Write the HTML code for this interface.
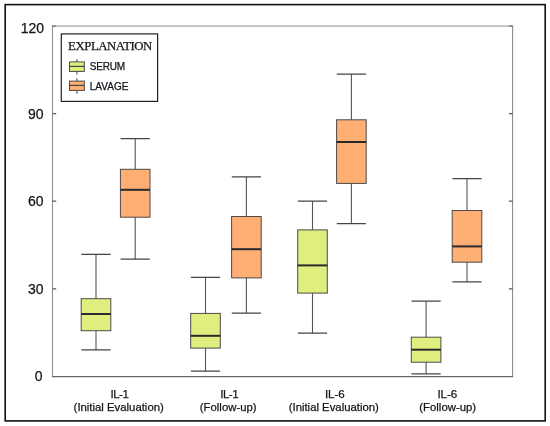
<!DOCTYPE html>
<html><head><meta charset="utf-8"><title>Box plot</title>
<style>
html,body{margin:0;padding:0;background:#fff;}
svg{display:block;}
text{font-family:"Liberation Sans",Arial,sans-serif;fill:#14141c;stroke:#14141c;stroke-width:0.25px;}
.ser{font-family:"Liberation Serif","Times New Roman",serif;}
</style></head><body>
<svg width="550" height="426" viewBox="0 0 550 426">
<rect x="0" y="0" width="550" height="426" fill="#fff"/>
<rect x="5.2" y="4.6" width="540" height="416.3" fill="none" stroke="#111" stroke-width="1.6"/>

<path d="M52.0 26.05H513.1" fill="none" stroke="#8e8e8e" stroke-width="1"/>
<path d="M512.6 26.05V376.55" fill="none" stroke="#8c8c8c" stroke-width="1.1"/>
<path d="M52.5 25.55V376.55" fill="none" stroke="#909090" stroke-width="1.1"/>
<path d="M52.0 376.55H513.1" fill="none" stroke="#686868" stroke-width="1.3"/>
<text x="42.5" y="381.2" font-size="14" text-anchor="end">0</text>
<path d="M52.5 288.8h3.7M512.6 288.8h-3.7" stroke="#5a5a5a" stroke-width="1.2"/>
<text x="43.6" y="293.8" font-size="14" text-anchor="end">30</text>
<path d="M52.5 201.2h3.7M512.6 201.2h-3.7" stroke="#5a5a5a" stroke-width="1.2"/>
<text x="43.6" y="205.6" font-size="14" text-anchor="end">60</text>
<path d="M52.5 113.6h3.7M512.6 113.6h-3.7" stroke="#5a5a5a" stroke-width="1.2"/>
<text x="43.6" y="119.2" font-size="14" text-anchor="end">90</text>
<path d="M52.5 26.0h3.7M512.6 26.0h-3.7" stroke="#5a5a5a" stroke-width="1.2"/>
<text x="44.0" y="32.7" font-size="14" text-anchor="end">120</text>
<path d="M96.0 254.4V349.9" stroke="#555" stroke-width="1.1" fill="none"/>
<path d="M81.4 254.4H110.6M81.4 349.9H110.6" stroke="#444" stroke-width="1.25" fill="none"/>
<rect x="81.2" y="298.7" width="29.6" height="32.0" fill="#e0ee80" stroke="#4a4a4a" stroke-width="1"/>
<path d="M81.2 314.0H110.8" stroke="#2a2a2a" stroke-width="2"/>
<path d="M135.2 138.5V259.0" stroke="#555" stroke-width="1.1" fill="none"/>
<path d="M120.6 138.5H149.8M120.6 259.0H149.8" stroke="#444" stroke-width="1.25" fill="none"/>
<rect x="120.39999999999999" y="169.3" width="29.6" height="47.9" fill="#ffae74" stroke="#4a4a4a" stroke-width="1"/>
<path d="M120.39999999999999 189.8H150.0" stroke="#2a2a2a" stroke-width="2"/>
<path d="M205.5 277.3V371.2" stroke="#555" stroke-width="1.1" fill="none"/>
<path d="M190.89999999999998 277.3H220.10000000000002M190.89999999999998 371.2H220.10000000000002" stroke="#444" stroke-width="1.25" fill="none"/>
<rect x="190.7" y="313.4" width="29.6" height="34.7" fill="#e0ee80" stroke="#4a4a4a" stroke-width="1"/>
<path d="M190.7 335.8H220.3" stroke="#2a2a2a" stroke-width="2"/>
<path d="M246.4 176.9V313.2" stroke="#555" stroke-width="1.1" fill="none"/>
<path d="M231.79999999999998 176.9H261.0M231.79999999999998 313.2H261.0" stroke="#444" stroke-width="1.25" fill="none"/>
<rect x="231.6" y="216.5" width="29.6" height="61.4" fill="#ffae74" stroke="#4a4a4a" stroke-width="1"/>
<path d="M231.6 249.2H261.2" stroke="#2a2a2a" stroke-width="2"/>
<path d="M312.5 201.1V333.2" stroke="#555" stroke-width="1.1" fill="none"/>
<path d="M297.9 201.1H327.1M297.9 333.2H327.1" stroke="#444" stroke-width="1.25" fill="none"/>
<rect x="297.7" y="229.9" width="29.6" height="63.2" fill="#e0ee80" stroke="#4a4a4a" stroke-width="1"/>
<path d="M297.7 265.4H327.3" stroke="#2a2a2a" stroke-width="2"/>
<path d="M351.4 74.0V223.6" stroke="#555" stroke-width="1.1" fill="none"/>
<path d="M336.79999999999995 74.0H366.0M336.79999999999995 223.6H366.0" stroke="#444" stroke-width="1.25" fill="none"/>
<rect x="336.59999999999997" y="119.8" width="29.6" height="63.6" fill="#ffae74" stroke="#4a4a4a" stroke-width="1"/>
<path d="M336.59999999999997 142.0H366.2" stroke="#2a2a2a" stroke-width="2"/>
<path d="M426.1 301.2V373.8" stroke="#555" stroke-width="1.1" fill="none"/>
<path d="M411.5 301.2H440.70000000000005M411.5 373.8H440.70000000000005" stroke="#444" stroke-width="1.25" fill="none"/>
<rect x="411.3" y="337.2" width="29.6" height="25.0" fill="#e0ee80" stroke="#4a4a4a" stroke-width="1"/>
<path d="M411.3 349.7H440.90000000000003" stroke="#2a2a2a" stroke-width="2"/>
<path d="M467.0 178.6V281.9" stroke="#555" stroke-width="1.1" fill="none"/>
<path d="M452.4 178.6H481.6M452.4 281.9H481.6" stroke="#444" stroke-width="1.25" fill="none"/>
<rect x="452.2" y="210.5" width="29.6" height="51.7" fill="#ffae74" stroke="#4a4a4a" stroke-width="1"/>
<path d="M452.2 246.4H481.8" stroke="#2a2a2a" stroke-width="2"/>
<rect x="61.3" y="33.9" width="96.3" height="67.5" fill="#fff" stroke="#222" stroke-width="1.2"/>
<text class="ser" x="68.1" y="50.4" font-size="12.8" letter-spacing="-0.46" stroke="#111" stroke-width="0.25">EXPLANATION</text>
<path d="M76.9 59.3V74.5" stroke="#666" stroke-width="1.3"/><rect x="69.5" y="61.9" width="14.8" height="9.5" fill="#e0ee80" stroke="#4a4a4a" stroke-width="1"/><path d="M69.5 66.4H84.3" stroke="#444" stroke-width="1.2"/>
<path d="M76.9 78.3V93.8" stroke="#666" stroke-width="1.3"/><rect x="69.5" y="81.1" width="14.8" height="9.3" fill="#ffae74" stroke="#4a4a4a" stroke-width="1"/><path d="M69.5 85.4H84.3" stroke="#444" stroke-width="1.2"/>
<text x="89.7" y="70" font-size="10" letter-spacing="-0.15" stroke-width="0.3">SERUM</text>
<text x="89.8" y="90" font-size="10" stroke-width="0.3">LAVAGE</text>
<text x="119.4" y="398.4" font-size="11.6" letter-spacing="-0.5" text-anchor="middle">IL-1</text>
<text x="118.7" y="411.3" font-size="11.35" text-anchor="middle">(Initial Evaluation)</text>
<text x="229.2" y="398.4" font-size="11.6" letter-spacing="-0.5" text-anchor="middle">IL-1</text>
<text x="228.2" y="411.3" font-size="11.35" text-anchor="middle">(Follow-up)</text>
<text x="334.7" y="398.4" font-size="11.6" letter-spacing="-0.1" text-anchor="middle">IL-6</text>
<text x="333.8" y="411.3" font-size="11.35" text-anchor="middle">(Initial Evaluation)</text>
<text x="447.3" y="398.4" font-size="11.6" letter-spacing="-0.1" text-anchor="middle">IL-6</text>
<text x="447.7" y="411.3" font-size="11.35" text-anchor="middle">(Follow-up)</text>
</svg></body></html>
